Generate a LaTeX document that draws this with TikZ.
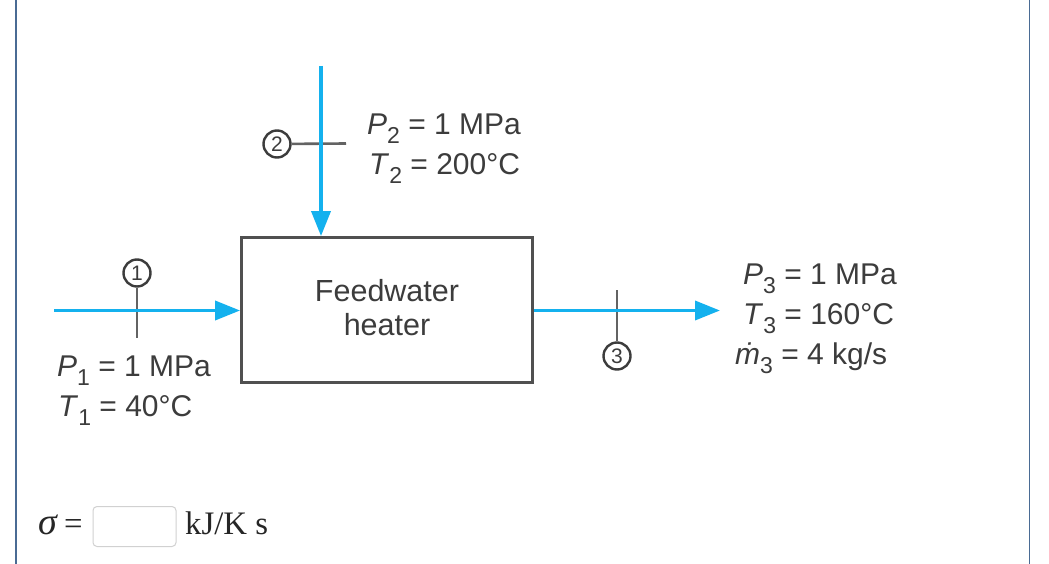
\documentclass[tikz,border=0pt]{standalone}
\usepackage{fontspec}
\setmainfont{Liberation Sans}
\newfontfamily\serifface{Liberation Serif}
\usetikzlibrary{arrows.meta}
\definecolor{flow}{HTML}{14B1EE}
\definecolor{ink}{HTML}{3C3C3C}
\definecolor{frameblue}{HTML}{4A6B94}
\newcommand{\vv}[2]{\textit{#1}\raisebox{-0.3em}{\fontsize{23}{23}\selectfont #2}}
\tikzset{
  x=1pt,y=-1pt,
  flowline/.style={draw=flow,line width=3.6pt,-{Triangle[length=25pt,width=19pt]}},
  tick/.style={draw=ink!80,line width=2.6pt},
  statecirc/.style={circle,draw=ink,line width=2.4pt,minimum size=27pt,inner sep=0pt,text=ink,font=\fontsize{21}{21}\selectfont},
  datalabel/.style={anchor=base west,inner sep=0pt,text=ink,font=\fontsize{30}{30}\selectfont},
  serif/.style={anchor=base west,inner sep=0pt,text=black!85,font=\serifface\fontsize{32.8}{32.8}\selectfont},
}
\begin{document}
\begin{tikzpicture}
\useasboundingbox (0,0) rectangle (1049,564);
\fill[white] (0,0) rectangle (1049,564);
\coordinate (ft) at (16,0); \coordinate (fb) at (16,564);
\coordinate (gt) at (1029.5,0); \coordinate (gb) at (1029.5,564);
\draw[frameblue,line width=1.2pt] (ft) -- (fb);
\draw[frameblue,line width=1.2pt] (gt) -- (gb);

\node[draw=ink!90,line width=2.8pt,minimum width=291pt,minimum height=145pt,inner sep=0pt] (heater) at (387,310) {};
\node[align=center,inner sep=0pt,text=ink,font=\fontsize{30.5}{34}\selectfont] (heatertext) at (387,308) {Feedwater\\heater};

\coordinate (in1) at (54,310.5);
\coordinate (in2) at (321,66);
\coordinate (out3) at (720,310.5);
\coordinate (tick1) at (137,338);
\coordinate (tick2) at (346,143.5);
\coordinate (tick3) at (617,290);
\node[statecirc] (s1) at (137,273) {1};
\node[statecirc] (s2) at (277,144) {2};
\node[statecirc] (s3) at (617,356) {3};

\draw[tick] (s1) -- (tick1);
\draw[tick] (s2) -- (tick2);
\draw[tick] (s3) -- (tick3);

\draw[flowline] (in1) -- (in1 -| heater.west);
\draw[flowline] (in2) -- (in2 |- heater.north);
\draw[flowline] (in1 -| heater.east) -- (out3);

\node[datalabel] (p1) at (57,376) {\vv{P}{1} = 1 MPa};
\node[datalabel] (t1) at (58,416) {\vv{T}{1} = 40°C};
\node[datalabel] (p2) at (367,135) {\vv{P}{2} = 1 MPa};
\node[datalabel] (t2) at (369,175) {\vv{T}{2} = 200°C};
\node[datalabel] (p3) at (743,284) {\vv{P}{3} = 1 MPa};
\node[datalabel] (t3) at (743,324) {\vv{T}{3} = 160°C};
\node[datalabel] (m3) at (735,364) {\vv{\.{m}}{3} = 4 kg/s};

\node[serif] (sig) at (38,534) {{\fontsize{38}{38}\selectfont\textit{σ}}\hspace{6pt}=};
\node[draw=black!18,line width=1pt,rounded corners=4pt,minimum width=83pt,minimum height=40pt,inner sep=0pt] (ans) at (134.5,526.5) {};
\node[serif] (unit) at (185,534) {kJ/K s};
\end{tikzpicture}
\end{document}
